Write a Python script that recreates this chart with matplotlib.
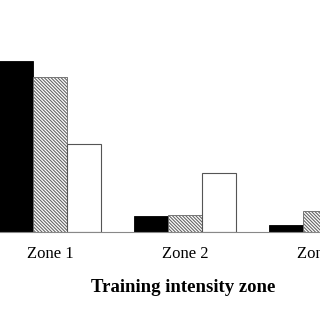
import matplotlib
matplotlib.use("Agg")
import matplotlib.pyplot as plt
import numpy as np

plt.rcParams['font.family'] = ['Liberation Serif', 'DejaVu Serif']
plt.rcParams['hatch.linewidth'] = 0.8
plt.rcParams['hatch.color'] = '#3a3a3a'

zones = ['Zone 1', 'Zone 2', 'Zone 3']
series_a = [80.0, 7.5, 3.3]
series_b = [72.5, 8.0, 10.0]
series_c = [41.0, 27.5, 31.5]

fig = plt.figure(figsize=(3.2, 3.2), dpi=100)
ax = fig.add_axes([0.0, 0.275, 1.0, 0.725])

x = np.arange(len(zones))
w = 0.25
ax.bar(x - w, series_a, w, color='black', edgecolor='black', linewidth=0.6)
ax.bar(x, series_b, w, color='white', edgecolor='#666666', hatch='\\' * 10, linewidth=0.6)
ax.bar(x + w, series_c, w, color='white', edgecolor='#555555', linewidth=0.8)

ax.set_xlim(-51 / 137.5, 269 / 137.5)
ax.set_ylim(0, 108.5)
for s in ['top', 'left', 'right']:
    ax.spines[s].set_visible(False)
ax.spines['bottom'].set_color('#888888')
ax.spines['bottom'].set_linewidth(0.8)
ax.set_yticks([])
ax.set_xticks(x)
ax.set_xticklabels(zones, fontsize=12)
ax.tick_params(axis='x', length=0, pad=10)

fig.text(0.572, 0.103, 'Training intensity zone', ha='center', va='center',
         fontsize=13.5, fontweight='bold')

fig.savefig('out.png', dpi=100)
